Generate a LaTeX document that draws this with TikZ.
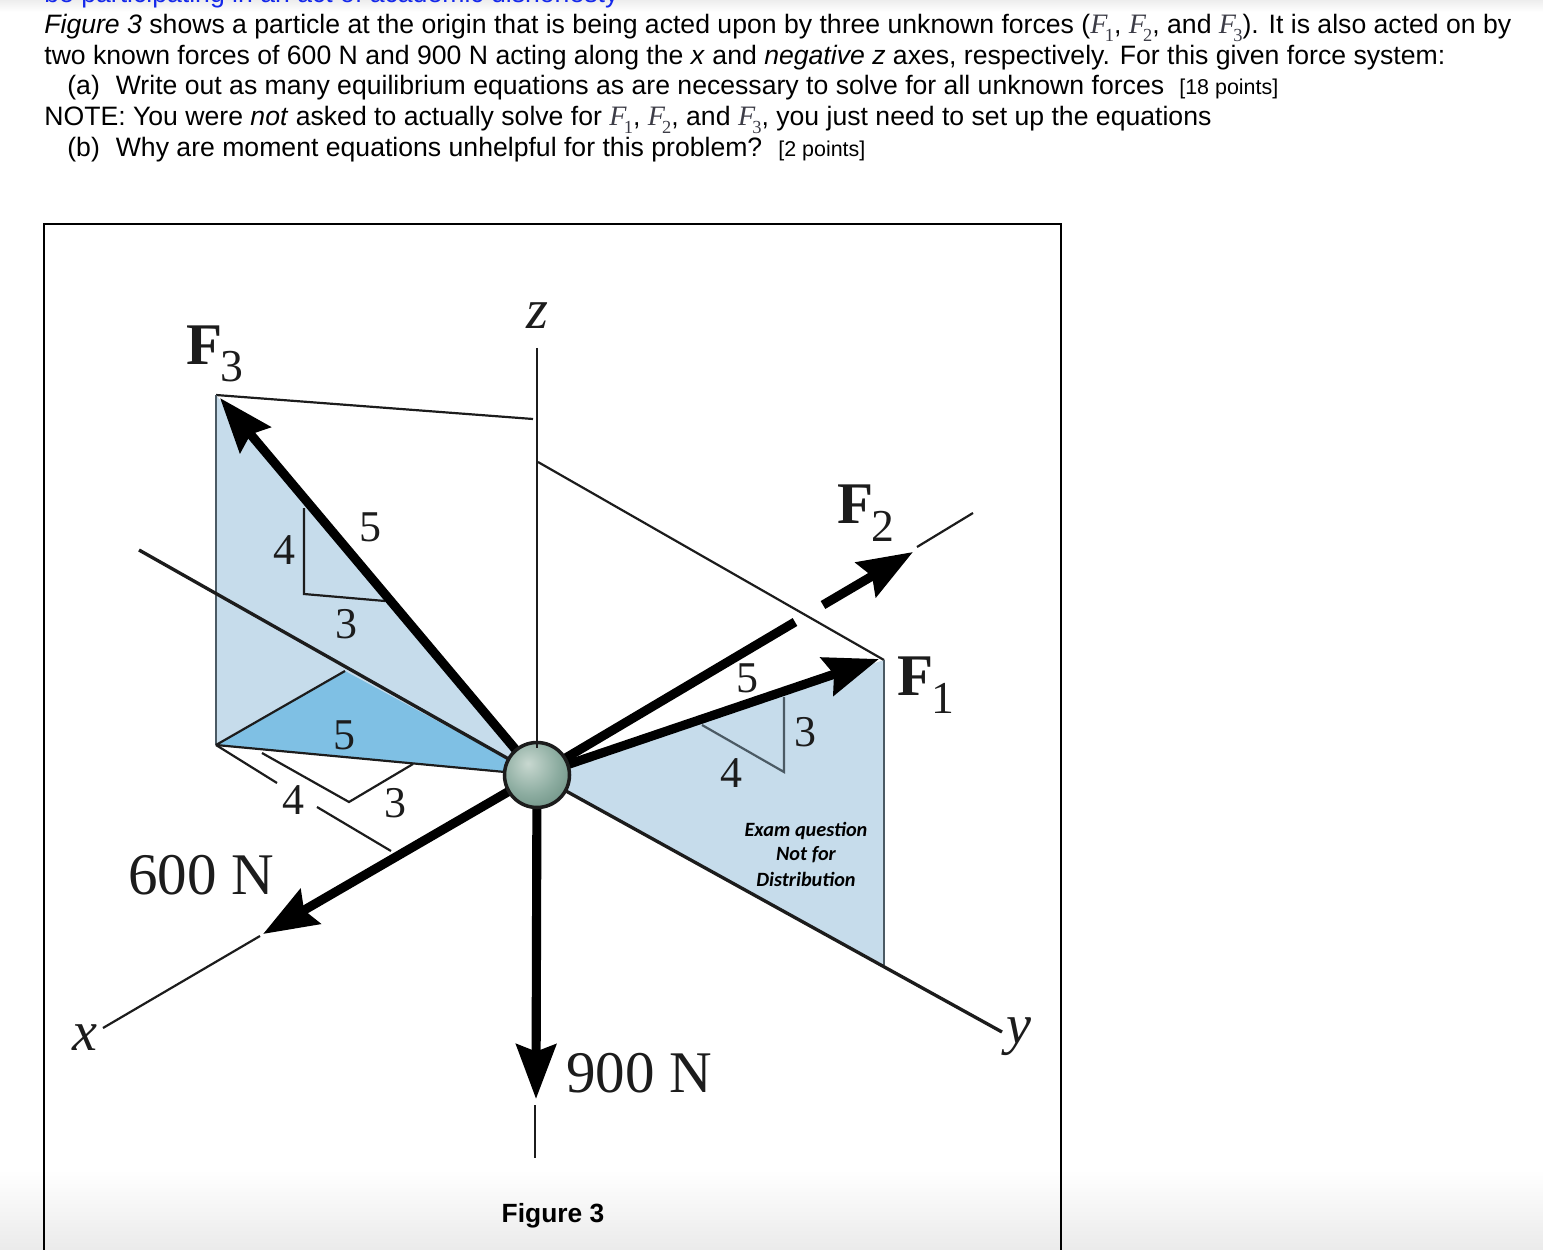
\documentclass[tikz,border=0pt]{standalone}
\usepackage{fontspec}
\setmainfont{Liberation Sans}
\newfontfamily\timesfont{Liberation Serif}
\newfontfamily\calfont{Carlito}
\usetikzlibrary{arrows.meta}
\definecolor{planeblue}{RGB}{198,220,235}
\definecolor{shadowblue}{RGB}{127,192,228}
\definecolor{inkline}{RGB}{28,28,28}
\definecolor{edgegrey}{RGB}{75,90,100}
\definecolor{linkblue}{RGB}{20,40,235}
\definecolor{symbolgrey}{RGB}{60,60,70}
\definecolor{ballhi}{RGB}{200,216,208}
\definecolor{ballmid}{RGB}{140,172,160}
\definecolor{ballrim}{RGB}{75,115,100}
\pgfdeclareradialshading{ballshade}{\pgfpoint{-7bp}{9bp}}{
  color(0bp)=(ballhi);
  color(22bp)=(ballmid);
  color(52bp)=(ballrim);
  color(100bp)=(ballrim)}
\newcommand{\forceF}[1]{{\timesfont\itshape\color{symbolgrey}\fontsize{16}{18}\selectfont F\kern-.1em\raisebox{-.25em}{\upshape\fontsize{10.5}{12}\selectfont #1}}}
\newcommand{\forceB}[2]{{\timesfont\bfseries #1}\kern-.04em\raisebox{-.3em}{\timesfont\fontsize{26}{26}\selectfont #2}}
\tikzset{
  qline/.style={anchor=base west,inner sep=0pt,font=\fontsize{15.15}{18}\selectfont},
  pts/.style={anchor=base west,inner sep=0pt,font=\fontsize{12.2}{14}\selectfont},
  thin line/.style={draw=inkline,line width=1.25pt},
  grey edge/.style={draw=edgegrey,line width=1.25pt},
  axis line/.style={draw=inkline,line width=1.9pt},
  z line/.style={draw=inkline,line width=1.5pt},
  force/.style={draw=black,line width=5.2pt,-{Stealth[length=31pt,width=22.5pt,inset=4pt]}},
  force stub/.style={draw=black,line width=5.2pt},
  num/.style={inner sep=0pt,font=\timesfont\fontsize{25}{25}\selectfont,text=inkline},
  load/.style={inner sep=0pt,font=\timesfont\fontsize{33.6}{34}\selectfont,text=inkline},
  axis name/.style={inner sep=0pt,font=\timesfont\itshape\fontsize{32}{32}\selectfont,text=inkline},
  wmark/.style={inner sep=0pt,font=\calfont\bfseries\itshape\fontsize{11.55}{14}\selectfont,text=black},
}
\begin{document}
\begin{tikzpicture}[x=0.02cm,y=-0.02cm]
			\useasboundingbox (0,0) rectangle (1543,1250);
			\shade[top color=white,bottom color=black!8] (0,1170) rectangle (1543,1250); % page shadow
			\shade[top color=black!7,bottom color=white] (0,0) rectangle (1543,12);
			
			% question text
			\node[qline,text=linkblue] (cut) at (44,3) {be participating in an act of academic dishonesty};
			\node[qline] (q1) at (44,34) {\textit{Figure 3} shows a particle at the origin that is being acted upon by three unknown forces (\forceF{1}, \forceF{2}, and \forceF{3}). It is also acted on by};
			\node[qline] (q2) at (44,65) {two known forces of 600 N and 900 N acting along the \textit{x} and \textit{negative z} axes, respectively. For this given force system:};
			\node[qline] (q3) at (67,95) {(a)\hspace{.6em}Write out as many equilibrium equations as are necessary to solve for all unknown forces};
			\node[pts] (p3) at (1179,95) {[18 points]};
			\node[qline] (q4) at (44,126) {NOTE: You were \textit{not} asked to actually solve for \forceF{1}, \forceF{2}, and \forceF{3}, you just need to set up the equations};
			\node[qline] (q5) at (67,157) {(b)\hspace{.6em}Why are moment equations unhelpful for this problem?};
			\node[pts] (p5) at (778,157) {[2 points]};
			
			\draw[line width=1.1pt] (44,224) rectangle (1061,1270); % frame
			
			% main points
			\coordinate (O) at (537,775); % particle
			\coordinate (A) at (216,395); % F3 corner
			\coordinate (B) at (216,745); % foot of F3
			\coordinate (C) at (884,660); % F1 corner
			\coordinate (D) at (884,965); % foot of F1
			\coordinate (E) at (345,671);
			\coordinate (Zt) at (537,348);
			\coordinate (Ya) at (139,550);
			\coordinate (Yb) at (1002,1032);
			
			% planes
			\fill[planeblue] (A) -- (O) -- (B) -- cycle;
			\fill[shadowblue] (B) -- (E) -- (O) -- cycle;
			\fill[planeblue] (O) -- (C) -- (D) -- cycle;
			
			% thin construction lines
			\draw[thin line] (A) -- (533,419);
			\draw[thin line] (538,462) -- (C);
			\draw[grey edge] (A) -- (B);
			\draw[grey edge] (C) -- (D);
			\draw[thin line] (B) -- (E);
			\draw[thin line] (B) -- (O);
			\draw[axis line] (Ya) -- (O);
			\draw[axis line] (O) -- (Yb);
			
			% slope triangles
			\draw[thin line] (304,508) -- (304,594) -- (385,601);
			\draw[grey edge] (702,725) -- (784,772) -- (784,697);
			\draw[thin line] (262,753) -- (349,802) -- (413,764);
			\draw[thin line] (B) -- (277,783);
			\draw[thin line] (317,807) -- (391,851);
			
			% forces
			\draw[force] (O) -- (220,398); % F3
			\draw[force] (O) -- (879,659); % F1
			\draw[force stub] (O) -- (795,622); % F2 first part
			\draw[force] (823,605) -- (913,552); % F2 second part
			\draw[force] (O) -- (263,934); % 600 N
			\draw[force] (O) -- (536,1099); % 900 N
			
			\draw[thin line] (917,547) -- (973,513);
			\draw[thin line] (260,936) -- (103,1028);
			\draw[thin line] (535,1105) -- (535,1158);
			
			\node[circle,draw=inkline,line width=2pt,minimum size=37pt,inner sep=0pt,shading=ballshade] (ball) at (O) {};
			\draw[z line] (Zt) -- (537,748);
			
			% labels
			\node[num] (n1) at (284,550) {4};
			\node[num] (n2) at (370,527) {5};
			\node[num] (n3) at (346,624) {3};
			\node[num] (n4) at (344,735) {5};
			\node[num] (n5) at (293,800) {4};
			\node[num] (n6) at (395,803) {3};
			\node[num] (n7) at (747,678) {5};
			\node[num] (n8) at (805,732) {3};
			\node[num] (n9) at (731,773) {4};
			\node[load] (f3) at (215,354) {\forceB{F}{3}};
			\node[load] (f2) at (866,513) {\forceB{F}{2}};
			\node[load] (f1) at (926,685) {\forceB{F}{1}};
			\node[load] (l600) at (201,875) {600 N};
			\node[load] (l900) at (639,1073) {900 N};
			\node[axis name] (lx) at (85,1038) {x};
			\node[axis name] (ly) at (1019,1037) {y};
			\node[axis name] (lz) at (537,316) {z};
			\node[wmark] (w1) at (806,831) {Exam question};
			\node[wmark] (w2) at (806,855) {Not for};
			\node[wmark] (w3) at (806,879) {Distribution};
			\node[inner sep=0pt,font=\bfseries\fontsize{15}{18}\selectfont] (cap) at (553,1216) {Figure 3};
\end{tikzpicture}
\end{document}
